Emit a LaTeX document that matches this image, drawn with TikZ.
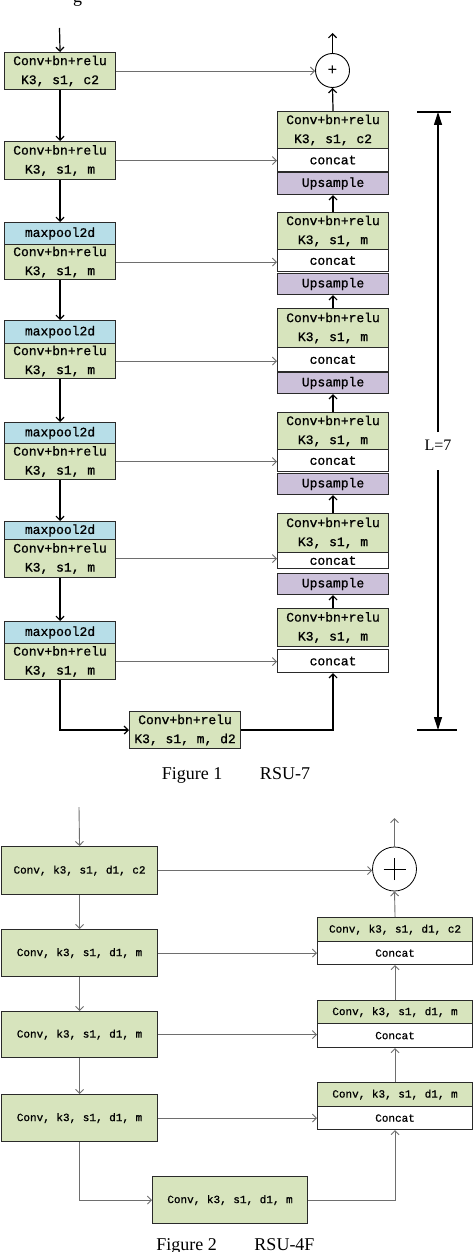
\documentclass[tikz,border=0pt]{standalone}
\usepackage{fontspec}
\setmainfont{Liberation Serif}
\newfontfamily\boxfont[BoldFont={Liberation Mono}, BoldFeatures={FakeBold=0.9}]{Liberation Mono}
\usetikzlibrary{arrows.meta}
\definecolor{cgreen}{HTML}{D7E4BD}
\definecolor{cblue}{HTML}{B7DEE8}
\definecolor{cpurple}{HTML}{CCC1DA}
\definecolor{cside}{HTML}{6E6E6E}
\definecolor{cborder}{HTML}{2A2A2A}
\tikzset{
  blk/.style={draw=cborder, line width=1.1pt, inner sep=0pt, anchor=north west, align=center, text=black},
  fa/.style={blk, font=\fontsize{13}{19}\selectfont\boxfont\bfseries},
  fb/.style={blk, font=\fontsize{11}{14}\selectfont\boxfont\bfseries},
  gbox/.style={fa, fill=cgreen},
  pbox/.style={fa, fill=cblue},
  ubox/.style={fa, fill=cpurple},
  wbox/.style={fa, fill=white},
  gboxb/.style={fb, fill=cgreen},
  wboxb/.style={fb, fill=white},
  tipv/.style={-{Straight Barb[length=4pt,width=8pt]}},
  vmain/.style={draw=black, line width=1.2pt, tipv},
  hside/.style={draw=cside, line width=0.9pt, tipv},
  sideb/.style={draw=cside, line width=0.9pt, tipv},
  captxt/.style={font=\fontsize{18}{18}\selectfont, anchor=base, inner sep=0pt},
  dimln/.style={draw=black, line width=1.1pt},
}
\newcommand{\bx}[7]{\node[#1, minimum width=#5pt, minimum height=#6pt] (#2) at (#3,#4) {#7};}
\begin{document}
\begin{tikzpicture}[x=1pt,y=-1pt]
\useasboundingbox (0,0) rectangle (474,1252);
\clip (0,0) rectangle (474,1252);
\node[captxt] (gfrag) at (77.5,3) {g};

% ---------------- Figure 1 ----------------
\bx{gbox}{l1}{4}{52}{111}{37}{Conv+bn+relu\\K3, s1, c2}
\bx{gbox}{l2}{4}{141}{111}{38}{Conv+bn+relu\\K3, s1, m}
\bx{pbox}{l3p}{4}{222}{111}{22}{maxpool2d}
\bx{gbox}{l3}{4}{244}{111}{35}{Conv+bn+relu\\K3, s1, m}
\bx{pbox}{l4p}{4}{320}{111}{23}{maxpool2d}
\bx{gbox}{l4}{4}{343}{111}{35}{Conv+bn+relu\\K3, s1, m}
\bx{pbox}{l5p}{4}{422}{111}{21}{maxpool2d}
\bx{gbox}{l5}{4}{443}{111}{36}{Conv+bn+relu\\K3, s1, m}
\bx{pbox}{l6p}{4}{521}{111}{18}{maxpool2d}
\bx{gbox}{l6}{4}{539}{111}{38}{Conv+bn+relu\\K3, s1, m}
\bx{pbox}{l7p}{4}{621}{111}{22}{maxpool2d}
\bx{gbox}{l7}{4}{643}{111}{36}{Conv+bn+relu\\K3, s1, m}

\bx{gbox}{r1}{277}{111}{111}{37}{Conv+bn+relu\\K3, s1, c2}
\bx{wbox}{r1c}{277}{148}{111}{23}{concat}
\bx{ubox}{r1u}{277}{172}{111}{22}{Upsample}
\bx{gbox}{r2}{277}{212}{111}{37}{Conv+bn+relu\\K3, s1, m}
\bx{wbox}{r2c}{277}{249}{111}{22}{concat}
\bx{ubox}{r2u}{277}{273}{111}{21}{Upsample}
\bx{gbox}{r3}{277}{308}{111}{39}{Conv+bn+relu\\K3, s1, m}
\bx{wbox}{r3c}{277}{347}{111}{24}{concat}
\bx{ubox}{r3u}{277}{372}{111}{21}{Upsample}
\bx{gbox}{r4}{277}{412}{111}{37}{Conv+bn+relu\\K3, s1, m}
\bx{wbox}{r4c}{277}{449}{111}{22}{concat}
\bx{ubox}{r4u}{277}{473}{111}{21}{Upsample}
\bx{gbox}{r5}{277}{513}{111}{39}{Conv+bn+relu\\K3, s1, m}
\bx{wbox}{r5c}{277}{552}{111}{16}{concat}
\bx{ubox}{r5u}{277}{573}{111}{21}{Upsample}
\bx{gbox}{r6}{277}{608}{111}{38}{Conv+bn+relu\\K3, s1, m}
\bx{wbox}{r6c}{277}{649}{111}{23}{concat}

\bx{gbox}{b7}{129}{711}{111}{37}{Conv+bn+relu\\K3, s1, m, d2}

\node[circle, draw=black, line width=0.9pt, minimum size=34pt, inner sep=0pt, font=\fontsize{17}{17}\selectfont\bfseries] (c1) at (332.5,70.5) {+};
\coordinate (in1) at (59.5,28);
\coordinate (out1) at (332.5,33);

\draw[vmain] (in1) -- (l1.north);
\draw[vmain] (l1.south) -- (l2.north);
\draw[vmain] (l2.south) -- (l3p.north);
\draw[vmain] (l3.south) -- (l4p.north);
\draw[vmain] (l4.south) -- (l5p.north);
\draw[vmain] (l5.south) -- (l6p.north);
\draw[vmain] (l6.south) -- (l7p.north);

\draw[hside] (l1.east) -- (l1.east -| c1.west);
\draw[hside] (l2.east) -- (l2.east -| r1c.west);
\draw[hside] (l3.east) -- (l3.east -| r2c.west);
\draw[hside] (l4.east) -- (l4.east -| r3c.west);
\draw[hside] (l5.east) -- (l5.east -| r4c.west);
\draw[hside] (l6.east) -- (l6.east -| r5c.west);
\draw[hside] (l7.east) -- (l7.east -| r6c.west);

\draw[vmain] (r1.north) -- (c1.south);
\draw[vmain] (c1.north) -- (out1);
\draw[vmain] (r2.north) -- (r1u.south);
\draw[vmain] (r3.north) -- (r2u.south);
\draw[vmain] (r4.north) -- (r3u.south);
\draw[vmain] (r5.north) -- (r4u.south);
\draw[vmain] (r6.north) -- (r5u.south);

\draw[vmain] (l7.south) |- (b7.west);
\draw[vmain] (b7.east) -| (r6c.south);

% L=7 dimension
\coordinate (dtop) at (438,112);
\coordinate (dbot) at (438,730);
\coordinate (dga) at (438,432);
\coordinate (dgb) at (438,470);
\node[font=\fontsize{16}{16}\selectfont, inner sep=0pt] (lab) at (438,445) {L=7};
\draw[dimln, -{Triangle[length=13pt,width=8pt]}] (dga) -- (dtop);
\draw[dimln, -{Triangle[length=13pt,width=8pt]}] (dgb) -- (dbot);
\draw[dimln] ([xshift=-21pt]dtop) -- ([xshift=13pt]dtop);
\draw[dimln] ([xshift=-21pt]dbot) -- ([xshift=19pt]dbot);

\node[captxt] (f1a) at (192,779) {Figure 1};
\node[captxt] (f1b) at (285,779) {RSU-7};

% ---------------- Figure 2 ----------------
\bx{gboxb}{a1}{1}{846}{156}{48}{Conv, k3, s1, d1, c2}
\bx{gboxb}{a2}{1}{929}{156}{47}{Conv, k3, s1, d1, m}
\bx{gboxb}{a3}{1}{1011}{156}{46}{Conv, k3, s1, d1, m}
\bx{gboxb}{a4}{1}{1094}{156}{47}{Conv, k3, s1, d1, m}
\bx{gboxb}{a5}{152}{1176}{155}{47}{Conv, k3, s1, d1, m}

\bx{gboxb}{g1}{317}{917}{155}{24}{Conv, k3, s1, d1, c2}
\bx{wboxb}{g1c}{317}{941}{155}{23}{Concat}
\bx{gboxb}{g2}{317}{1000}{155}{23}{Conv, k3, s1, d1, m}
\bx{wboxb}{g2c}{317}{1023}{155}{24}{Concat}
\bx{gboxb}{g3}{317}{1082}{155}{24}{Conv, k3, s1, d1, m}
\bx{wboxb}{g3c}{317}{1106}{155}{23}{Concat}

\node[circle, draw=black, line width=0.8pt, minimum size=44pt, inner sep=0pt] (c2) at (394.5,869) {};
\draw[line width=0.8pt] ([xshift=-11pt]c2.center) -- ([xshift=11pt]c2.center);
\draw[line width=0.8pt] ([yshift=-11pt]c2.center) -- ([yshift=11pt]c2.center);
\coordinate (in2) at (79,807);
\coordinate (out2) at (394.5,818);

\draw[sideb] (in2) -- (a1.north);
\draw[sideb] (a1.south) -- (a2.north);
\draw[sideb] (a2.south) -- (a3.north);
\draw[sideb] (a3.south) -- (a4.north);
\draw[sideb] (a1.east) -- (a1.east -| c2.west);
\draw[sideb] (a2.east) -- (a2.east -| g1c.west);
\draw[sideb] (a3.east) -- (a3.east -| g2c.west);
\draw[sideb] (a4.east) -- (a4.east -| g3c.west);
\draw[sideb] (g1.north) -- (c2.south);
\draw[sideb] (c2.north) -- (out2);
\draw[sideb] (g2.north) -- (g1c.south);
\draw[sideb] (g3.north) -- (g2c.south);
\draw[sideb] (a4.south) |- (a5.west);
\draw[sideb] (a5.east) -| (g3c.south);

\node[captxt] (f2a) at (186.5,1250) {Figure 2};
\node[captxt] (f2b) at (284.5,1250) {RSU-4F};
\end{tikzpicture}
\end{document}
